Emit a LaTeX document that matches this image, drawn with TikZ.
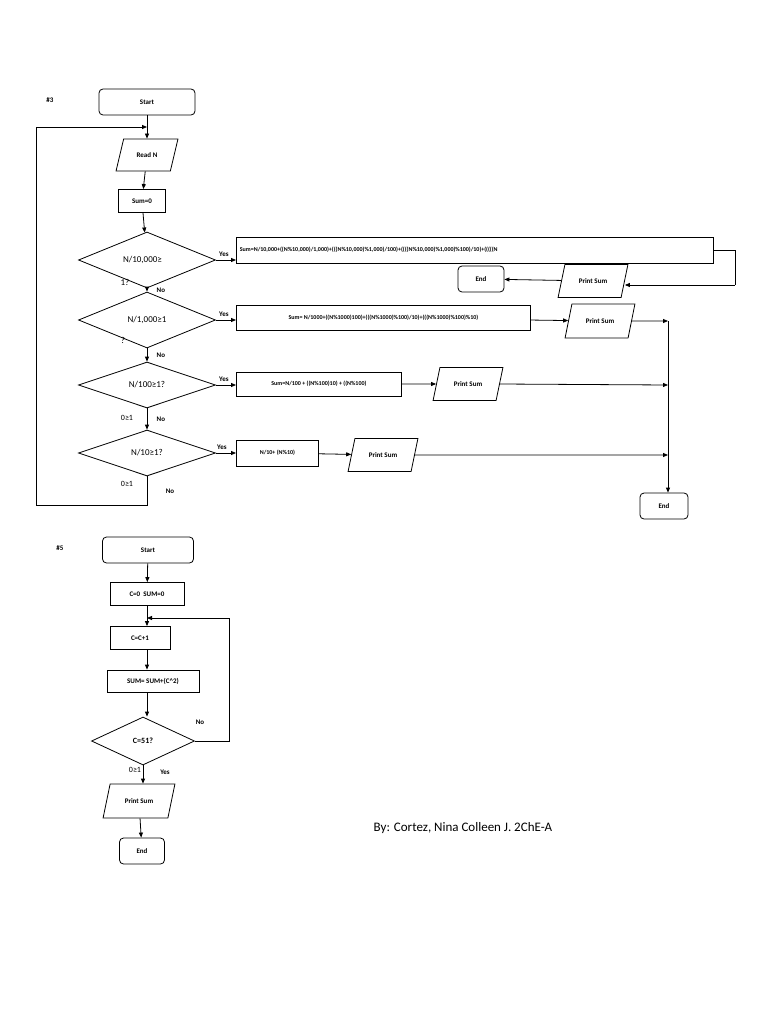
\documentclass[tikz,border=0pt]{standalone}
\usepackage{fontspec}
\setmainfont{Carlito}
\usetikzlibrary{shapes.geometric,arrows.meta}
\begin{document}
\begin{tikzpicture}[x=1pt,y=-1pt,
  every node/.style={font=\fontsize{7}{8}\selectfont\bfseries},
  base/.style={draw,thick,inner sep=1pt},
  term/.style={base,rounded corners=4pt,minimum width=#1,minimum height=26},
  proc/.style={base,rectangle,anchor=west},
  io/.style={base,trapezium,trapezium left angle=62,trapezium right angle=118,minimum width=#1,minimum height=32,trapezium stretches=true},
  dec/.style={base,diamond,aspect=2.5,minimum width=137,minimum height=56,font=\fontsize{9}{10}\selectfont,inner sep=0pt},
  lab/.style={font=\fontsize{7}{8}\selectfont\bfseries},
  arr/.style={thick,-{Triangle[length=5pt,width=4pt]}},
  ln/.style={thick}]
\useasboundingbox (0,0) rectangle (768,1024);
\fill[white] (0,0) rectangle (768,1024);
% #3
\node[lab] (h3) at (50,100) {\#3};
\node[term=96] (s) at (147,102) {Start};
\node[io=62] (rn) at (147,155) {Read N};
\node[base,minimum width=47,minimum height=23] (s0) at (142,201) {Sum=0};
\node[dec,minimum height=56] (d1) at (147,260) {N/10,000≥\phantom{11}};
\node[lab,font=\fontsize{9}{10}\selectfont] (q1) at (125,282) {1?};
\node[proc,minimum width=477,minimum height=26,text width=470,align=left,anchor=west] (b1) at (236,250) {\fontsize{6}{7}\selectfont Sum=N/10,000+((N\%10,000)/1,000)+(((N\%10,000)\%1,000)/100)+((((N\%10,000)\%1,000)\%100)/10)+(((((N};
\node[io=70,minimum height=33] (p1) at (593,281) {Print Sum};
\node[term=46] (e1) at (481,279) {End};
\coordinate (c1a) at (735,250);
\coordinate (c1b) at (735,285);
\node[dec] (d2) at (147,320) {N/1,000≥1};
\node[lab,font=\fontsize{9}{10}\selectfont] (q2) at (123,340) {?};
\node[proc,minimum width=294,minimum height=25] (b2) at (236,318) {\fontsize{6}{7}\selectfont Sum= N/1000+((N\%1000)100)+(((N\%1000)\%100)/10)+(((N\%1000)\%100)\%10)};
\node[io=70,minimum height=34] (p2) at (600,321) {Print Sum};
\node[dec,minimum height=46] (d3) at (147,385) {N/100≥1?};
\node[proc,minimum width=165,minimum height=24] (b3) at (236,384) {\fontsize{6}{7}\selectfont Sum=N/100 + ((N\%100)10) + ((N\%100)};
\node[io=70,minimum height=33] (p3) at (468,384) {Print Sum};
\node[dec,minimum height=46] (d4) at (147,453) {N/10≥1?};
\node[proc,minimum width=82,minimum height=26] (b4) at (236,453) {\fontsize{6}{7}\selectfont N/10+ (N\%10)};
\node[io=70,minimum height=33] (p4) at (383,455) {Print Sum};
\node[term=48] (e2) at (664,506) {End};
\coordinate (v2) at (668,321);
\coordinate (v3) at (668,385);
\coordinate (v4) at (668,455);
\coordinate (l1) at (147,505);
\coordinate (l2) at (36,505);
\coordinate (l3) at (36,127);
\coordinate (l4) at (147,127);
\draw[arr] (s) -- (rn);
\draw[arr] (rn) -- (s0);
\draw[arr] (s0) -- (d1);
\draw[arr] (d1) -- node[lab,pos=0.45,right=6pt]{No} (d2);
\draw[arr] (d2) -- node[lab,right=6pt]{No} (d3);
\draw[arr] (d3) -- node[lab,right=6pt]{No} (d4);
\draw[arr] (d1.east) -- node[lab,above,pos=0.4]{Yes} (b1.west |- d1.east);
\draw[arr] (d2.east) -- node[lab,above,pos=0.4]{Yes} (b2.west |- d2.east);
\draw[arr] (d3.east) -- node[lab,above,pos=0.4]{Yes} (b3.west |- d3.east);
\draw[arr] (d4.east) -- node[lab,above,pos=0.3]{Yes} (b4.west |- d4.east);
\draw[ln] (b1.east) -- (c1a) -- (c1b);
\draw[arr] (c1b) -- (p1.east |- c1b);
\draw[arr] (p1) -- (e1);
\draw[arr] (b2) -- (p2);
\draw[arr] (b3) -- (p3);
\draw[arr] (b4) -- (p4);
\draw[arr] (p2.east) -- (v2);
\draw[arr] (p3.east) -- (v3);
\draw[arr] (p4.east) -- (v4);
\draw[arr] (v2) -- (e2.north -| v2);
\draw[ln] (d4.south) -- (l1) -- (l2) -- (l3);
\draw[arr] (l3) -- (l4);
\node[lab,font=\fontsize{8}{9}\selectfont] (z3) at (127,418) {0≥1};
\node[lab,font=\fontsize{8}{9}\selectfont] (z4) at (127,484) {0≥1};
\node[lab] (n4) at (170,491) {No};
% #5
\node[lab] (h5) at (60,548) {\#5};
\node[term=91] (s5) at (148,550) {Start};
\node[base,minimum width=74,minimum height=23] (c0) at (147,594) {C=0\ \ SUM=0};
\node[base,minimum width=60,minimum height=23] (cc) at (140,638) {C=C+1};
\node[base,minimum width=92,minimum height=22] (ss) at (153,681) {SUM= SUM+(C\^{}2)};
\node[dec,minimum width=103,minimum height=48,font=\fontsize{8}{9}\selectfont\bfseries] (d5) at (143,741) {C=51?};
\node[io=72,minimum height=34] (p5) at (139,801) {Print Sum};
\node[term=45] (e5) at (142,851) {End};
\coordinate (n1) at (229,741);
\coordinate (n2) at (229,618);
\coordinate (n3) at (147,618);
\draw[arr] (s5) -- (c0);
\draw[arr] (c0.south -| 147,0) -- (cc.north -| 147,0);
\draw[arr] (cc.south -| 147,0) -- (ss.north -| 147,0);
\draw[arr] (ss.south -| 147,0) -- (d5.north -| 147,0);
\draw[ln] (d5.east) -- (n1) -- (n2);
\draw[arr] (n2) -- (n3);
\node[lab] (no5) at (200,722) {No};
\draw[arr] (d5.south -| 143,0) -- (p5.north -| 143,0);
\node[lab,font=\fontsize{8}{9}\selectfont] (z5) at (135,770) {0≥1};
\node[lab] (y5) at (165,772) {Yes};
\draw[arr] (p5) -- (e5);
\node[font=\fontsize{13}{15}\selectfont] (by) at (463,828) {By: Cortez, Nina Colleen J. 2ChE-A};
\end{tikzpicture}
\end{document}
